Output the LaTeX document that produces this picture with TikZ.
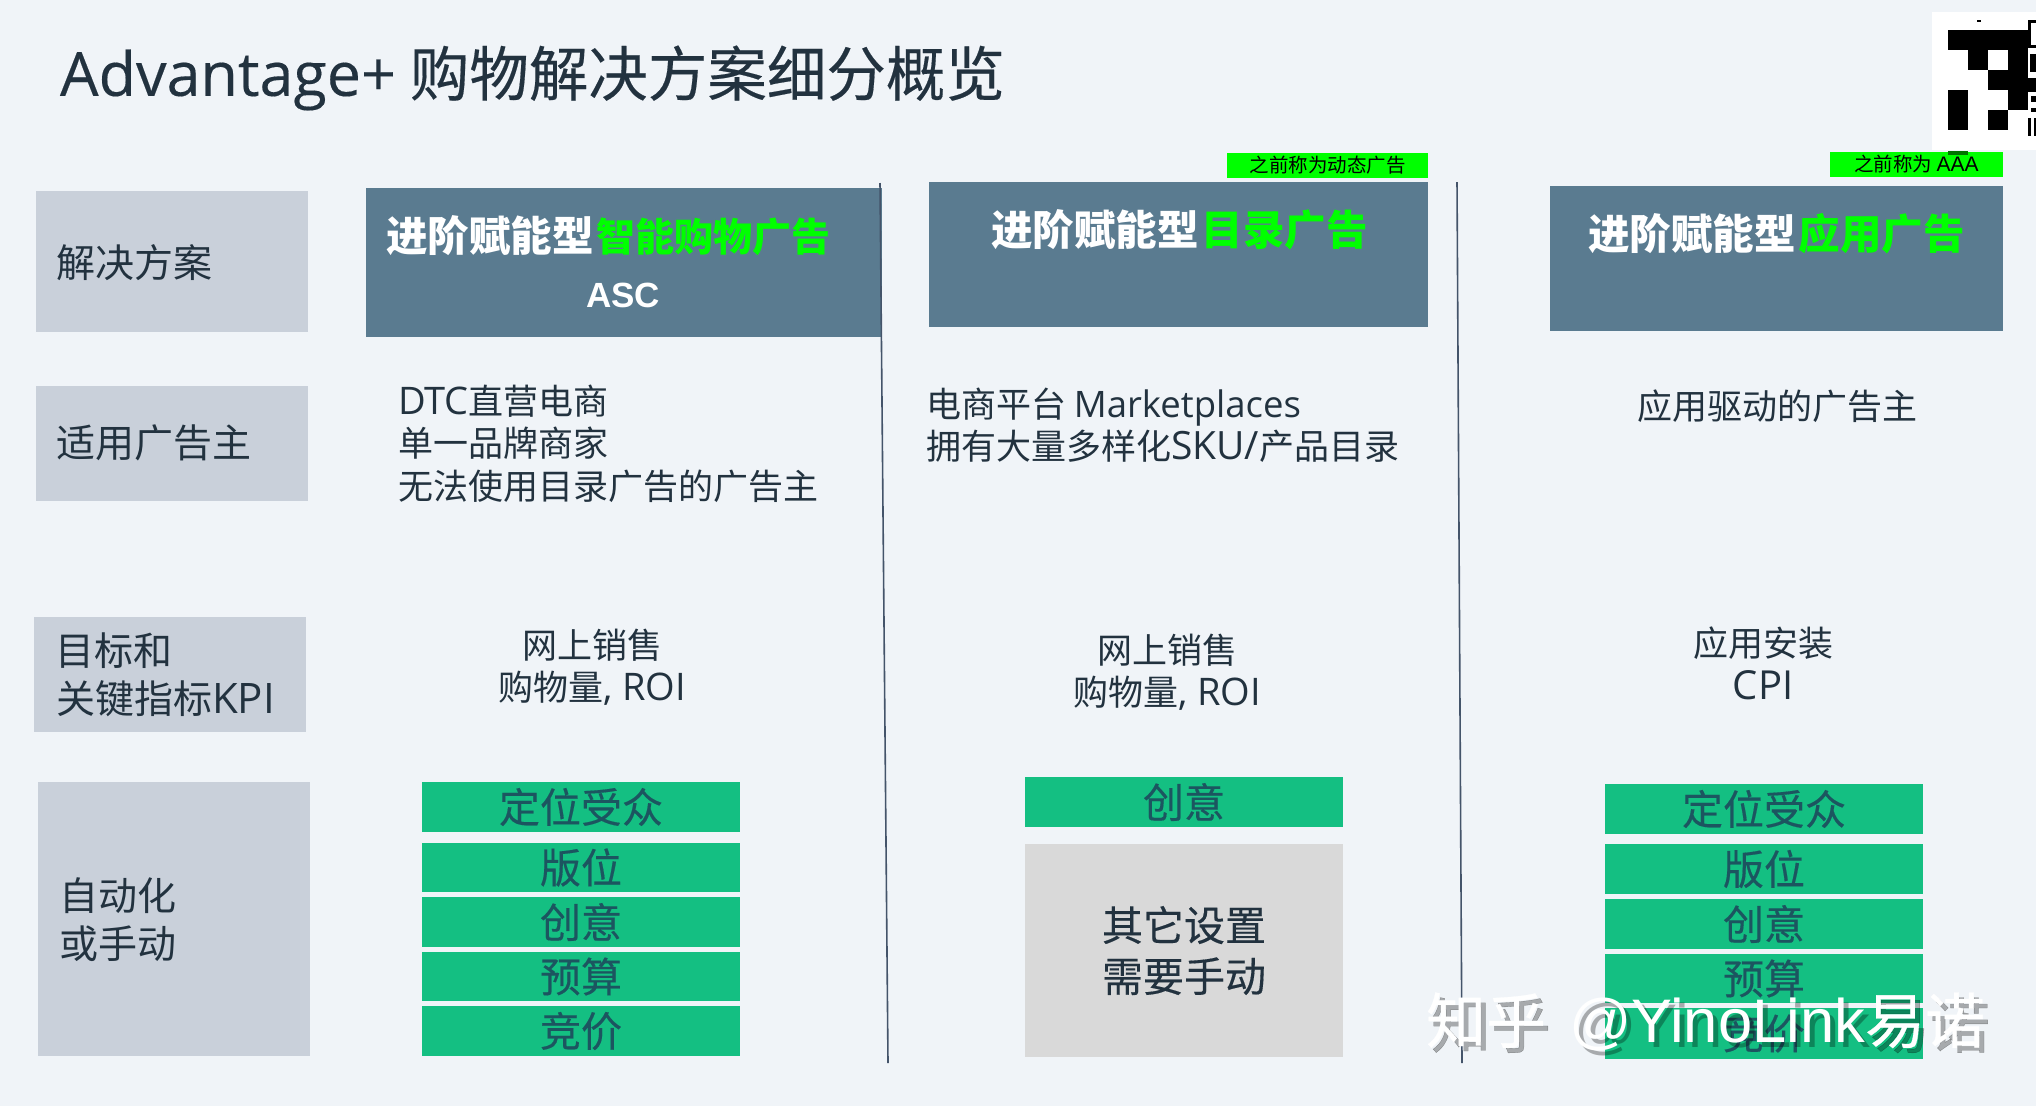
\documentclass[tikz,border=0pt]{standalone}
\usepackage{fontspec}
\setmainfont{Noto Sans CJK SC}
\newfontfamily\latinface{Open Sans}
\newfontfamily\latinmed[FakeBold=0.25]{Open Sans}
\newfontfamily\arialface{Liberation Sans}
\newfontfamily\cjkmed[FakeBold=0.3]{Noto Sans CJK SC}
\newfontfamily\markface[FakeBold=0.5]{Noto Sans CJK SC}
\definecolor{bgc}{HTML}{F0F4F8}
\definecolor{headc}{HTML}{5A7B90}
\definecolor{sidec}{HTML}{C9D0DA}
\definecolor{inkc}{HTML}{22323F}
\definecolor{greenc}{HTML}{14BF82}
\definecolor{greenink}{HTML}{1C5560}
\definecolor{grayc}{HTML}{D9D9D9}
\definecolor{tagc}{HTML}{00FF00}
\definecolor{linec}{HTML}{44546A}
\newcommand{\fs}[1]{\fontsize{#1}{#1}\selectfont}
\newcommand{\lt}[2][36.5]{{\latinface\fontsize{#1}{#1}\selectfont #2}}
\newcommand{\wmtext}{{\markface 知乎}\hspace{23pt}{\arialface\fs{61.5}@YinoLink}{\markface 易诺}}
\newcommand{\boxat}[7]{%
  \pgfmathsetmacro{\bw}{#5-#3}\pgfmathsetmacro{\bh}{#6-#4}%
  \node[#2,minimum width=\bw pt,minimum height=\bh pt,anchor=north west] (#1) at (#3,#4) {#7};}
\tikzset{
  plain/.style={inner sep=0pt,outer sep=0pt},
  side/.style={plain,fill=sidec},
  head/.style={plain,fill=headc},
  tagbox/.style={plain,fill=tagc,text=black,font=\fs{19.5}},
  greenbox/.style={plain,fill=greenc,text=greenink,font=\fs{41}\cjkmed},
  graybox/.style={plain,fill=grayc},
  sidetext/.style={plain,anchor=west,text=inkc,font=\fs{39}},
  body/.style={plain,text=inkc,font=\fs{35}},
  divider/.style={draw=linec,line width=1.6pt},
  headtext/.style={plain,text=white,font=\fs{41.5}\bfseries},
  qr/.style={plain,fill=black},
}
\begin{document}
\begin{tikzpicture}[x=1pt,y=-1pt]
\useasboundingbox (0,0) rectangle (2036,1106);
\fill[bgc] (0,0) rectangle (2036,1106);
% title
\node[plain,anchor=west,text=inkc,font=\fs{59.5}] (title) at (60,78) {{\latinmed\fs{61}Advantage+}\hspace{14pt}{\cjkmed 购物解决方案细分概览}};
% QR fragment
\boxat{qrpatch}{plain,fill=white}{1932}{12}{2036}{150}{}
\boxat{qa}{qr}{1948}{30}{2028}{50}{}
\boxat{qb}{qr}{1968}{50}{1988}{70}{}
\boxat{qc}{qr}{2008}{50}{2028}{70}{}
\boxat{qd}{qr}{1988}{70}{2028}{90}{}
\boxat{qe}{qr}{2008}{90}{2028}{110}{}
\boxat{qf}{qr}{1948}{90}{1968}{130}{}
\boxat{qg}{qr}{1988}{110}{2008}{130}{}
\boxat{qh}{qr}{2028}{20}{2036}{48}{}
\boxat{qi}{plain,fill=white}{2031}{23}{2036}{45}{}
\boxat{qj}{qr}{2030}{54}{2036}{72}{}
\boxat{qk}{qr}{2028}{78}{2036}{92}{}
\boxat{ql}{qr}{2031}{96}{2036}{102}{}
\boxat{qm}{qr}{2031}{108}{2036}{112}{}
\boxat{qn}{qr}{2028}{118}{2031}{136}{}
\boxat{qo}{qr}{2034}{118}{2036}{136}{}
\boxat{qp}{qr}{1977}{20}{1981}{22}{}
% left column
\boxat{s1}{side}{36}{191}{308}{332}{}
\boxat{s2}{side}{36}{386}{308}{501}{}
\boxat{s3}{side}{34}{617}{306}{732}{}
\boxat{s4}{side}{38}{782}{310}{1056}{}
\node[sidetext] (s1t) at (56,263) {解决方案};
\node[sidetext] (s2t) at (56,443) {适用广告主};
\node[sidetext] (s3a) at (55,651) {目标和};
\node[sidetext] (s3b) at (56,699) {关键指标\lt[42]{KPI}};
\node[sidetext] (s4a) at (59,896) {自动化};
\node[sidetext] (s4b) at (59,944) {或手动};
% headers
\boxat{h1}{head}{366}{188}{882}{337}{}
\boxat{h2}{head}{929}{182}{1428}{327}{}
\boxat{h3}{head}{1550}{186}{2003}{331}{}
\node[headtext,anchor=west] (h1t) at (386,236) {进阶赋能型\hspace{3pt}\textcolor{tagc}{\fs{39}智能购物广告}};
\node[plain,text=white,font=\arialface\bfseries\fs{35}] (h1a) at (623,295) {ASC};
\node[headtext,anchor=west] (h2t) at (991,230) {进阶赋能型\hspace{3pt}\textcolor{tagc}{目录广告}};
\node[headtext,anchor=west] (h3t) at (1588,234) {进阶赋能型\hspace{3pt}\textcolor{tagc}{应用广告}};
\boxat{t2}{tagbox}{1227}{153}{1428}{178}{之前称为动态广告}
\boxat{t3}{tagbox}{1830}{152}{2003}{177}{之前称为 {\arialface\fs{21}AAA}}
\boxat{qq}{plain,fill=green!45!black}{1948}{151}{1968}{155}{}
% dividers
\coordinate (d1a) at (880,183); \coordinate (d1b) at (888,1063);
\coordinate (d2a) at (1457,182); \coordinate (d2b) at (1462,1063);
\draw[divider] (d1a) -- (d1b);
\draw[divider] (d2a) -- (d2b);
% advertisers
\node[body,anchor=west] (a1) at (398,401) {\lt[38]{DTC}直营电商};
\node[body,anchor=west] (a2) at (398,443) {单一品牌商家};
\node[body,anchor=west] (a3) at (398,486) {无法使用目录广告的广告主};
\node[body,anchor=west] (b1) at (926,407) {电商平台 \lt{Marketplaces}};
\node[body,anchor=west] (b2) at (926,446) {拥有大量多样化\lt[39]{SKU/}产品目录};
\node[body] (c1) at (1777,406) {应用驱动的广告主};
% KPI
\node[body] (k1a) at (592,645) {网上销售};
\node[body] (k1b) at (592,688) {购物量\lt[38]{, ROI}};
\node[body] (k2a) at (1167,650) {网上销售};
\node[body] (k2b) at (1167,693) {购物量\lt[38]{, ROI}};
\node[body] (k3a) at (1763,643) {应用安装};
\node[body] (k3b) at (1763,685) {\lt[40]{CPI}};
% automation col 1
\boxat{g11}{greenbox}{422}{782}{740}{832}{定位受众}
\boxat{g12}{greenbox}{422}{843}{740}{892}{版位}
\boxat{g13}{greenbox}{422}{897}{740}{947}{创意}
\boxat{g14}{greenbox}{422}{952}{740}{1001}{预算}
\boxat{g15}{greenbox}{422}{1006}{740}{1056}{竞价}
% col 2
\boxat{g21}{greenbox}{1025}{777}{1343}{827}{创意}
\boxat{g22}{graybox,text=inkc,font=\fs{41}\cjkmed,align=center}{1025}{844}{1343}{1057}{其它设置\\[10pt]需要手动}
% col 3
\boxat{g31}{greenbox}{1605}{784}{1923}{834}{定位受众}
\boxat{g32}{greenbox}{1605}{844}{1923}{894}{版位}
\boxat{g33}{greenbox}{1605}{899}{1923}{949}{创意}
\boxat{g34}{greenbox}{1605}{954}{1923}{1003}{预算}
\boxat{g35}{greenbox}{1605}{1008}{1923}{1059}{竞价}
% watermark
\node[plain,anchor=west,text=black,text opacity=0.3,font=\fs{60}] (wm0) at (1431,1027) {\wmtext};
\node[plain,anchor=west,text=white,font=\fs{60}] (wm1) at (1426,1022) {\wmtext};
\end{tikzpicture}
\end{document}
